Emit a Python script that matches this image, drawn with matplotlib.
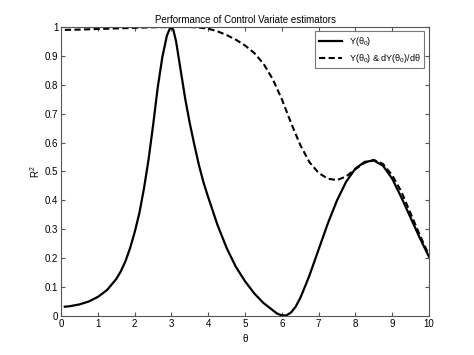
import numpy as np
import matplotlib
matplotlib.use("Agg")
import matplotlib.pyplot as plt

plt.rcParams['font.family'] = ['Liberation Sans', 'DejaVu Sans']
plt.rcParams['mathtext.fontset'] = 'custom'
plt.rcParams['mathtext.rm'] = 'Liberation Sans'
plt.rcParams['mathtext.it'] = 'Liberation Sans'

# Y(theta_0) only
theta_y = [0.1, 0.25, 0.5, 0.75, 1.0, 1.25, 1.5, 1.625, 1.75, 1.875, 2.0, 2.125,
           2.25, 2.375, 2.5, 2.625, 2.75, 2.875, 2.95, 3.0, 3.05, 3.125, 3.25,
           3.375, 3.5, 3.625, 3.75, 3.875, 4.0, 4.25, 4.5, 4.75, 5.0, 5.25,
           5.5, 5.75, 5.875, 6.0, 6.125, 6.25, 6.375, 6.5, 6.625, 6.75, 7.0,
           7.25, 7.5, 7.75, 8.0, 8.25, 8.5, 8.75, 9.0, 9.25, 9.5, 9.75, 10.0]
r2_y = [0.032, 0.034, 0.040, 0.050, 0.066, 0.09, 0.128, 0.155, 0.19, 0.235, 0.29, 0.355,
        0.44, 0.54, 0.66, 0.79, 0.895, 0.97, 0.993, 1.0, 0.99, 0.95, 0.85,
        0.75, 0.665, 0.59, 0.52, 0.46, 0.41, 0.315, 0.235, 0.17, 0.12, 0.078,
        0.045, 0.02, 0.008, 0.002, 0.002, 0.012, 0.032, 0.062, 0.1, 0.14, 0.23,
        0.32, 0.40, 0.465, 0.51, 0.533, 0.538, 0.52, 0.475, 0.41, 0.34, 0.27, 0.205]

# Y(theta_0) & dY(theta_0)/dtheta
theta_dy = [0.1, 0.5, 1.0, 1.5, 2.0, 2.5, 3.0, 3.5, 3.75, 4.0, 4.25, 4.5, 4.75,
            5.0, 5.25, 5.5, 5.75, 6.0, 6.25, 6.5, 6.75, 7.0, 7.25, 7.5, 7.75,
            8.0, 8.25, 8.5, 8.75, 9.0, 9.25, 9.5, 9.75, 10.0]
r2_dy = [0.99, 0.991, 0.993, 0.995, 0.997, 0.999, 1.0, 1.0, 0.998, 0.994, 0.985, 0.972, 0.956,
         0.936, 0.91, 0.873, 0.82, 0.75, 0.668, 0.592, 0.532, 0.495, 0.475, 0.47, 0.483,
         0.508, 0.53, 0.54, 0.526, 0.487, 0.43, 0.355, 0.28, 0.21]

fig = plt.figure(figsize=(4.74, 3.55), dpi=100)
ax = fig.add_axes([0.129, 0.110, 0.776, 0.814])

ax.plot(theta_y, r2_y, 'k-', lw=1.6, label=r'Y($\theta_0$)')
ax.plot(theta_dy, r2_dy, 'k--', lw=1.5, dashes=(3, 1.6),
        label=r'Y($\theta_0$) & dY($\theta_0$)/d$\theta$')

ax.set_xlim(0, 10)
ax.set_ylim(0, 1)
ax.set_xticks(np.arange(0, 11, 1))
ax.set_yticks(np.arange(0, 1.01, 0.1))
ax.set_yticklabels(['0', '0.1', '0.2', '0.3', '0.4', '0.5', '0.6', '0.7', '0.8', '0.9', '1'])
ax.tick_params(direction='in', top=True, right=True, labelsize=7, length=3,
               color='#555555', pad=2)
for s in ax.spines.values():
    s.set_color('#555555')
    s.set_linewidth(0.8)

ax.set_xlabel(r'$\theta$', fontsize=7, labelpad=2)
ax.set_ylabel(r'R$^2$', fontsize=7, labelpad=2)
ax.set_title('Performance of Control Variate estimators', fontsize=7, pad=3)

leg = ax.legend(loc='upper right', fontsize=6.5, frameon=True, fancybox=False,
                handlelength=2.6, borderpad=0.4, labelspacing=0.4,
                borderaxespad=0.5)
leg.get_frame().set_edgecolor('#555555')
leg.get_frame().set_linewidth(0.8)

fig.savefig('out.png', dpi=100)
